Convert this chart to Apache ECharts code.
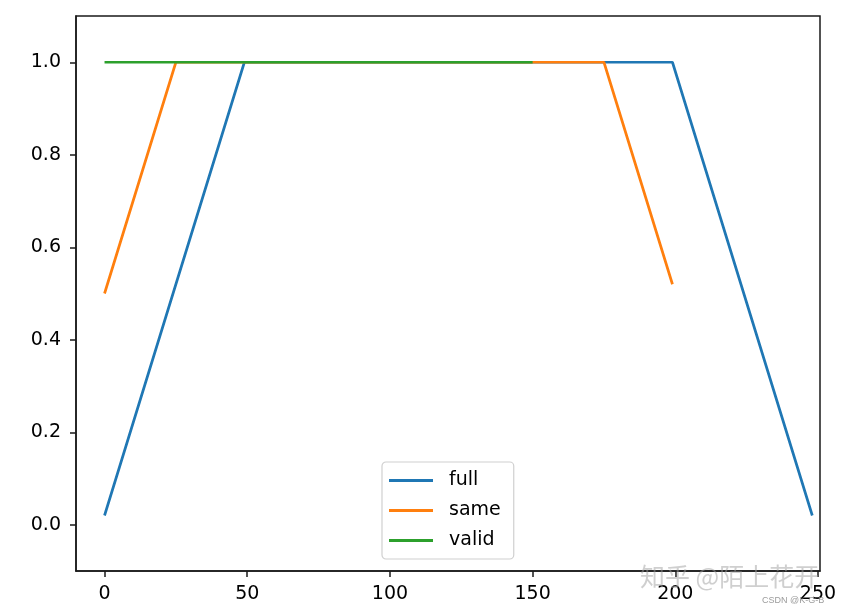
<!DOCTYPE html>
<html><head><meta charset="utf-8">
<script src="https://cdn.jsdelivr.net/npm/echarts@6/dist/echarts.min.js"></script>
<style>html,body{margin:0;padding:0;background:#fff}#c{width:844px;height:615px}</style>
</head><body><div id="c"></div>
<script>
// Key points (x, y) of each convolution result
const fullData = [[0, 0.02], [49, 1.0], [199, 1.0], [248, 0.02]];
const sameData = [[0, 0.5], [25, 1.0], [175, 1.0], [199, 0.52]];
const validData = [[0, 1.0], [150, 1.0]];
const xTicks = [0, 50, 100, 150, 200, 250];
const yTicks = [0.0, 0.2, 0.4, 0.6, 0.8, 1.0];
const seriesNames = ['full', 'same', 'valid'];
const colors = ['#1f77b4', '#ff7f0e', '#2ca02c'];

const chart = echarts.init(document.getElementById('c'), null, {renderer: 'canvas'});
const font = 'DejaVu Sans';
const lw = 2.7;
const axisCommon = {
  axisLine: {show: true, onZero: false, lineStyle: {color: '#1a1a1a', width: 1.5}},
  splitLine: {show: false}
};
chart.setOption({
  animation: false,
  backgroundColor: '#fff',
  grid: {left: 76, top: 16, right: 24, bottom: 44, show: true, borderColor: '#1a1a1a', borderWidth: 1.5, backgroundColor: 'transparent'},
  xAxis: Object.assign({
    type: 'value', min: -10, max: 250.7,
    axisTick: {show: true, customValues: xTicks, length: 6, lineStyle: {color: '#1a1a1a', width: 1.5}},
    axisLabel: {customValues: xTicks, color: '#000', fontFamily: font, fontSize: 19, margin: 14, formatter: v => String(v)}
  }, axisCommon),
  yAxis: Object.assign({
    type: 'value', min: -0.1, max: 1.1,
    axisTick: {show: true, customValues: yTicks, length: 6, lineStyle: {color: '#1a1a1a', width: 1.5}},
    axisLabel: {customValues: yTicks, color: '#000', fontFamily: font, fontSize: 19, margin: 15, formatter: v => v.toFixed(1)}
  }, axisCommon),
  legend: {
    orient: 'vertical', left: 382, top: 462,
    data: seriesNames,
    icon: 'path://M0,0 L44,0 L44,3 L0,3 Z',
    itemWidth: 44, itemHeight: 3, itemGap: 9,
    padding: [8, 13, 8, 7],
    backgroundColor: 'rgba(255,255,255,0.8)',
    borderColor: '#d0d0d0', borderWidth: 1.2, borderRadius: 4,
    textStyle: {fontFamily: font, fontSize: 19, color: '#000', lineHeight: 21, padding: [0, 0, 0, 11]}
  },
  series: [
    {name: seriesNames[0], type: 'line', data: fullData, showSymbol: false, color: colors[0], lineStyle: {width: lw, color: colors[0]}, z: 3},
    {name: seriesNames[1], type: 'line', data: sameData, showSymbol: false, color: colors[1], lineStyle: {width: lw, color: colors[1]}, z: 4},
    {name: seriesNames[2], type: 'line', data: validData, showSymbol: false, color: colors[2], lineStyle: {width: lw, color: colors[2]}, z: 5}
  ],
  graphic: [
    {type: 'text', left: 640, top: 564, z: 100, style: {text: '知乎 @陌上花开', font: '25px "Noto Sans CJK SC"', fill: 'rgba(160,160,160,0.5)'}},
    {type: 'text', left: 762, top: 596, z: 100, style: {text: 'CSDN @K-G-B', font: '9px "Liberation Sans"', fill: 'rgba(130,130,130,0.8)'}}
  ]
});
</script></body></html>
